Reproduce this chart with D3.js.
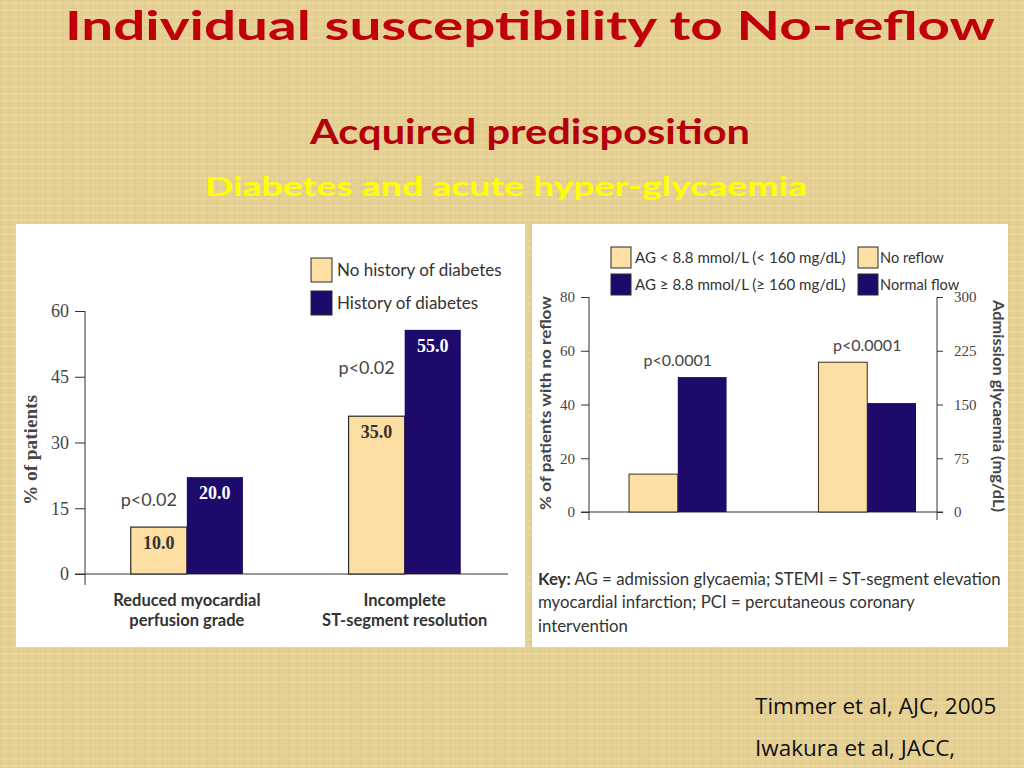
<!DOCTYPE html>
<html><head>
<meta charset="utf-8">
<title>Individual susceptibility to No-reflow</title>
<script src="https://d3js.org/d3.v7.min.js"></script>
<style>
  body { margin: 0; background: #e6d296; }
  svg { display: block; }
</style>
</head>
<body>
<svg id="slide" width="1024" height="768"></svg>
<script>
// ---- data ----
// left chart (Timmer): % of patients
const leftCats = ["Reduced myocardial|perfusion grade", "Incomplete|ST-segment resolution"];
const leftSeries = ["No history of diabetes", "History of diabetes"];
const leftNoHist = [10.7, 36.0];      // bar heights as drawn
const leftHist = [22.1, 55.7];
const leftNoHistLabels = ["10.0", "35.0"];
const leftHistLabels = ["20.0", "55.0"];
const leftPvals = ["p<0.02", "p<0.02"];
const leftPlevel = [16.9, 47.0];      // height (in % units) where the p-value sits
const leftTicks = [0, 15, 30, 45, 60];

// right chart (Iwakura)
const rightGroups = ["noReflowPct", "glycaemia"];
const rightGroup1 = [14.1, 50.2];     // % with no reflow: AG<8.8, AG>=8.8
const rightGroup2 = [209, 152];       // admission glycaemia mg/dL: no reflow, normal flow
const rightPvals = ["p<0.0001", "p<0.0001"];
const rightLeftTicks = [0, 20, 40, 60, 80];
const rightRightTicks = [0, 75, 150, 225, 300];
const rightLegend = [
  ["AG < 8.8 mmol/L (< 160 mg/dL)", "No reflow"],
  ["AG \u2265 8.8 mmol/L (\u2265 160 mg/dL)", "Normal flow"]
];

const TAN = "#fddfa3", NAVY = "#1d0a6b", INK = "#454545";
const SANS = "Lato, 'Open Sans', sans-serif";
const SERIF = "'Liberation Serif', 'DejaVu Serif', serif";

let svg = d3.select("svg#slide");

// parchment background with faint weave
let defs = svg.append("defs");
let pat = defs.append("pattern").attr("id", "weave").attr("width", 9).attr("height", 7)
  .attr("patternUnits", "userSpaceOnUse");
pat.append("rect").attr("width", 9).attr("height", 7).attr("fill", "#e5d094");
pat.append("line").attr("x1", 0).attr("y1", 0).attr("x2", 0).attr("y2", 7)
  .attr("stroke", "#cfb677").attr("stroke-width", 1).attr("opacity", 0.6);
pat.append("line").attr("x1", 0).attr("y1", 3).attr("x2", 9).attr("y2", 3)
  .attr("stroke", "#efdfab").attr("stroke-width", 1).attr("opacity", 0.6);
svg.append("rect").attr("width", 1024).attr("height", 768).attr("fill", "url(#weave)");

// titles
svg.append("text").attr("x", 530).attr("y", 40).attr("text-anchor", "middle")
  .attr("textLength", 930).attr("lengthAdjust", "spacingAndGlyphs")
  .style("font-family", SANS).style("font-weight", 700).style("font-size", "41px")
  .attr("fill", "#c0000b").text("Individual susceptibility to No-reflow");
svg.append("text").attr("x", 530).attr("y", 144).attr("text-anchor", "middle")
  .attr("textLength", 440).attr("lengthAdjust", "spacingAndGlyphs")
  .style("font-family", SANS).style("font-weight", 700).style("font-size", "34px")
  .attr("fill", "#b3000a").text("Acquired predisposition");
svg.append("text").attr("x", 506).attr("y", 196).attr("text-anchor", "middle")
  .attr("textLength", 602).attr("lengthAdjust", "spacingAndGlyphs")
  .style("font-family", SANS).style("font-weight", 700).style("font-size", "27px")
  .attr("fill", "#ffff00").text("Diabetes and acute hyper-glycaemia");

// panels
svg.append("rect").attr("x", 16).attr("y", 224).attr("width", 509).attr("height", 423).attr("fill", "#fff");
svg.append("rect").attr("x", 532).attr("y", 224).attr("width", 476).attr("height", 423).attr("fill", "#fff");

// ================= LEFT CHART =================
let left = svg.append("g");
const yL = d3.scaleLinear().domain([0, 60]).range([574, 311]);
const x0L = d3.scaleBand().domain(leftCats).range([85, 506.5]).paddingInner(0.485).paddingOuter(0.21);
const x1L = d3.scaleBand().domain(leftSeries).range([0, x0L.bandwidth()]);

let axL = left.append("g").attr("transform", "translate(85,0)")
  .call(d3.axisLeft(yL).tickValues(leftTicks).tickSize(10).tickSizeOuter(0).tickPadding(6));
axL.select(".domain").remove();
axL.selectAll("line").attr("stroke", "#333");
axL.selectAll("text").style("font-family", SERIF).style("font-size", "18px").attr("fill", INK);
left.append("line").attr("x1", 85).attr("x2", 85).attr("y1", 311).attr("y2", 585).attr("stroke", "#333");
left.append("line").attr("x1", 75).attr("x2", 508).attr("y1", yL(0)).attr("y2", yL(0)).attr("stroke", "#333");

let lg = left.selectAll("g.grp").data(leftCats).join("g").attr("class", "grp")
  .attr("transform", d => "translate(" + x0L(d) + ",0)");
lg.append("rect").attr("x", x1L(leftSeries[0])).attr("width", x1L.bandwidth())
  .attr("y", (d, i) => yL(leftNoHist[i])).attr("height", (d, i) => yL(0) - yL(leftNoHist[i]))
  .attr("fill", TAN).attr("stroke", "#2a2a2a").attr("stroke-width", 1.2);
lg.append("rect").attr("x", x1L(leftSeries[1])).attr("width", x1L.bandwidth())
  .attr("y", (d, i) => yL(leftHist[i])).attr("height", (d, i) => yL(0) - yL(leftHist[i]))
  .attr("fill", NAVY);
lg.append("text").attr("x", x1L(leftSeries[0]) + x1L.bandwidth() / 2)
  .attr("y", (d, i) => yL(leftNoHist[i]) + 22).attr("text-anchor", "middle")
  .style("font-family", SERIF).style("font-weight", 700).style("font-size", "18px")
  .attr("fill", "#333").text((d, i) => leftNoHistLabels[i]);
lg.append("text").attr("x", x1L(leftSeries[1]) + x1L.bandwidth() / 2)
  .attr("y", (d, i) => yL(leftHist[i]) + 22).attr("text-anchor", "middle")
  .style("font-family", SERIF).style("font-weight", 700).style("font-size", "18px")
  .attr("fill", "#fff").text((d, i) => leftHistLabels[i]);
lg.append("text").attr("x", x1L(leftSeries[1]) - 10)
  .attr("y", (d, i) => yL(leftPlevel[i]) + 6).attr("text-anchor", "end")
  .style("font-family", SANS).style("font-size", "18px").attr("fill", INK)
  .text((d, i) => leftPvals[i]);
lg.each(function(d) {
  let lines = d.split("|");
  d3.select(this).append("text").attr("x", x0L.bandwidth() / 2).attr("y", 606)
    .attr("text-anchor", "middle").style("font-family", SANS).style("font-weight", 700)
    .style("font-size", "16.5px").attr("fill", "#333")
    .selectAll("tspan").data(lines).join("tspan")
    .attr("x", x0L.bandwidth() / 2).attr("dy", (l, j) => j ? 20 : 0).text(l => l);
});
left.append("text").attr("transform", "translate(37,450) rotate(-90)").attr("text-anchor", "middle")
  .attr("textLength", 110).attr("lengthAdjust", "spacingAndGlyphs")
  .style("font-family", SERIF).style("font-weight", 700).style("font-size", "18px")
  .attr("fill", INK).text("% of patients");

let legL = left.selectAll("g.leg").data(leftSeries).join("g").attr("class", "leg")
  .attr("transform", (d, i) => "translate(311," + (258 + i * 33) + ")");
legL.append("rect").attr("width", 21).attr("height", 24)
  .attr("fill", (d, i) => i ? NAVY : TAN).attr("stroke", "#2a2a2a").attr("stroke-width", 1);
legL.append("text").attr("x", 26).attr("y", 18).style("font-family", SANS).style("font-size", "17px")
  .attr("fill", "#333").text(d => d);

// ================= RIGHT CHART =================
let right = svg.append("g");
const yR1 = d3.scaleLinear().domain([0, 80]).range([512, 297]);
const yR2 = d3.scaleLinear().domain([0, 300]).range([512, 297]);
const x0R = d3.scaleBand().domain(rightGroups).range([589, 937])
  .paddingInner(0.485).paddingOuter(0.161).align(0.656);
const x1R = d3.scaleBand().domain([0, 1]).range([0, x0R.bandwidth()]);

let axR1 = right.append("g").attr("transform", "translate(589,0)")
  .call(d3.axisLeft(yR1).tickValues(rightLeftTicks).tickSize(8).tickPadding(6));
let axR2 = right.append("g").attr("transform", "translate(937,0)")
  .call(d3.axisRight(yR2).tickValues(rightRightTicks).tickSize(6).tickPadding(11));
[axR1, axR2].forEach(a => {
  a.select(".domain").remove();
  a.selectAll("line").attr("stroke", "#333");
  a.selectAll("text").style("font-family", SERIF).style("font-size", "15px").attr("fill", INK);
});
right.append("line").attr("x1", 589).attr("x2", 589).attr("y1", 297).attr("y2", 520).attr("stroke", "#333");
right.append("line").attr("x1", 937).attr("x2", 937).attr("y1", 297).attr("y2", 520).attr("stroke", "#333");
right.append("line").attr("x1", 581).attr("x2", 943).attr("y1", 512).attr("y2", 512).attr("stroke", "#333");

const rightVals = [rightGroup1, rightGroup2];
const rightScales = [yR1, yR2];
let rg = right.selectAll("g.grp").data(rightGroups).join("g").attr("class", "grp")
  .attr("transform", d => "translate(" + x0R(d) + ",0)");
rg.each(function(d, gi) {
  let g = d3.select(this), sc = rightScales[gi];
  g.selectAll("rect").data(rightVals[gi]).join("rect")
    .attr("x", (v, i) => x1R(i)).attr("width", x1R.bandwidth())
    .attr("y", v => sc(v)).attr("height", v => 512 - sc(v))
    .attr("fill", (v, i) => i ? NAVY : TAN)
    .attr("stroke", (v, i) => i ? "none" : "#3a3020").attr("stroke-width", 1);
  g.append("text").attr("x", x0R.bandwidth() / 2)
    .attr("y", d3.min(rightVals[gi].map(v => sc(v))) - 11).attr("text-anchor", "middle")
    .style("font-family", SANS).style("font-size", "16px").attr("fill", INK).text(rightPvals[gi]);
});

right.append("text").attr("transform", "translate(551,403) rotate(-90)").attr("text-anchor", "middle")
  .attr("textLength", 214).attr("lengthAdjust", "spacingAndGlyphs")
  .style("font-family", SANS).style("font-weight", 700).style("font-size", "15px")
  .attr("fill", INK).text("% of patients with no reflow");
right.append("text").attr("transform", "translate(993,406) rotate(90)").attr("text-anchor", "middle")
  .attr("textLength", 212).attr("lengthAdjust", "spacingAndGlyphs")
  .style("font-family", SANS).style("font-weight", 700).style("font-size", "15px")
  .attr("fill", INK).text("Admission glycaemia (mg/dL)");

let legR = right.selectAll("g.leg").data(rightLegend).join("g").attr("class", "leg")
  .attr("transform", (d, i) => "translate(0," + (247 + i * 27) + ")");
legR.each(function(pair, i) {
  let g = d3.select(this);
  [[611, 635], [858, 880]].forEach((pos, k) => {
    g.append("rect").attr("x", pos[0]).attr("width", 20).attr("height", 21)
      .attr("fill", i ? NAVY : TAN).attr("stroke", "#2a2a2a").attr("stroke-width", 1);
    g.append("text").attr("x", pos[1]).attr("y", 16).style("font-family", SANS)
      .style("font-size", k ? "14.6px" : "15.1px").attr("fill", "#333").text(pair[k]);
  });
});

let key = right.append("text").style("font-family", SANS).style("font-size", "16.8px").attr("fill", "#333");
key.append("tspan").attr("x", 538).attr("y", 585).style("font-weight", 700).text("Key:");
key.append("tspan").text(" AG = admission glycaemia; STEMI = ST-segment elevation");
key.append("tspan").attr("x", 538).attr("y", 608).text("myocardial infarction; PCI = percutaneous coronary");
key.append("tspan").attr("x", 538).attr("y", 632).text("intervention");

// citations
svg.append("text").attr("x", 755).attr("y", 714).style("font-family", "'Open Sans', sans-serif")
  .style("font-size", "22.5px").attr("fill", "#111").text("Timmer et al, AJC, 2005");
svg.append("text").attr("x", 755).attr("y", 756).style("font-family", "'Open Sans', sans-serif")
  .style("font-size", "22.5px").attr("fill", "#111").text("Iwakura et al, JACC,");
</script>
</body>
</html>
